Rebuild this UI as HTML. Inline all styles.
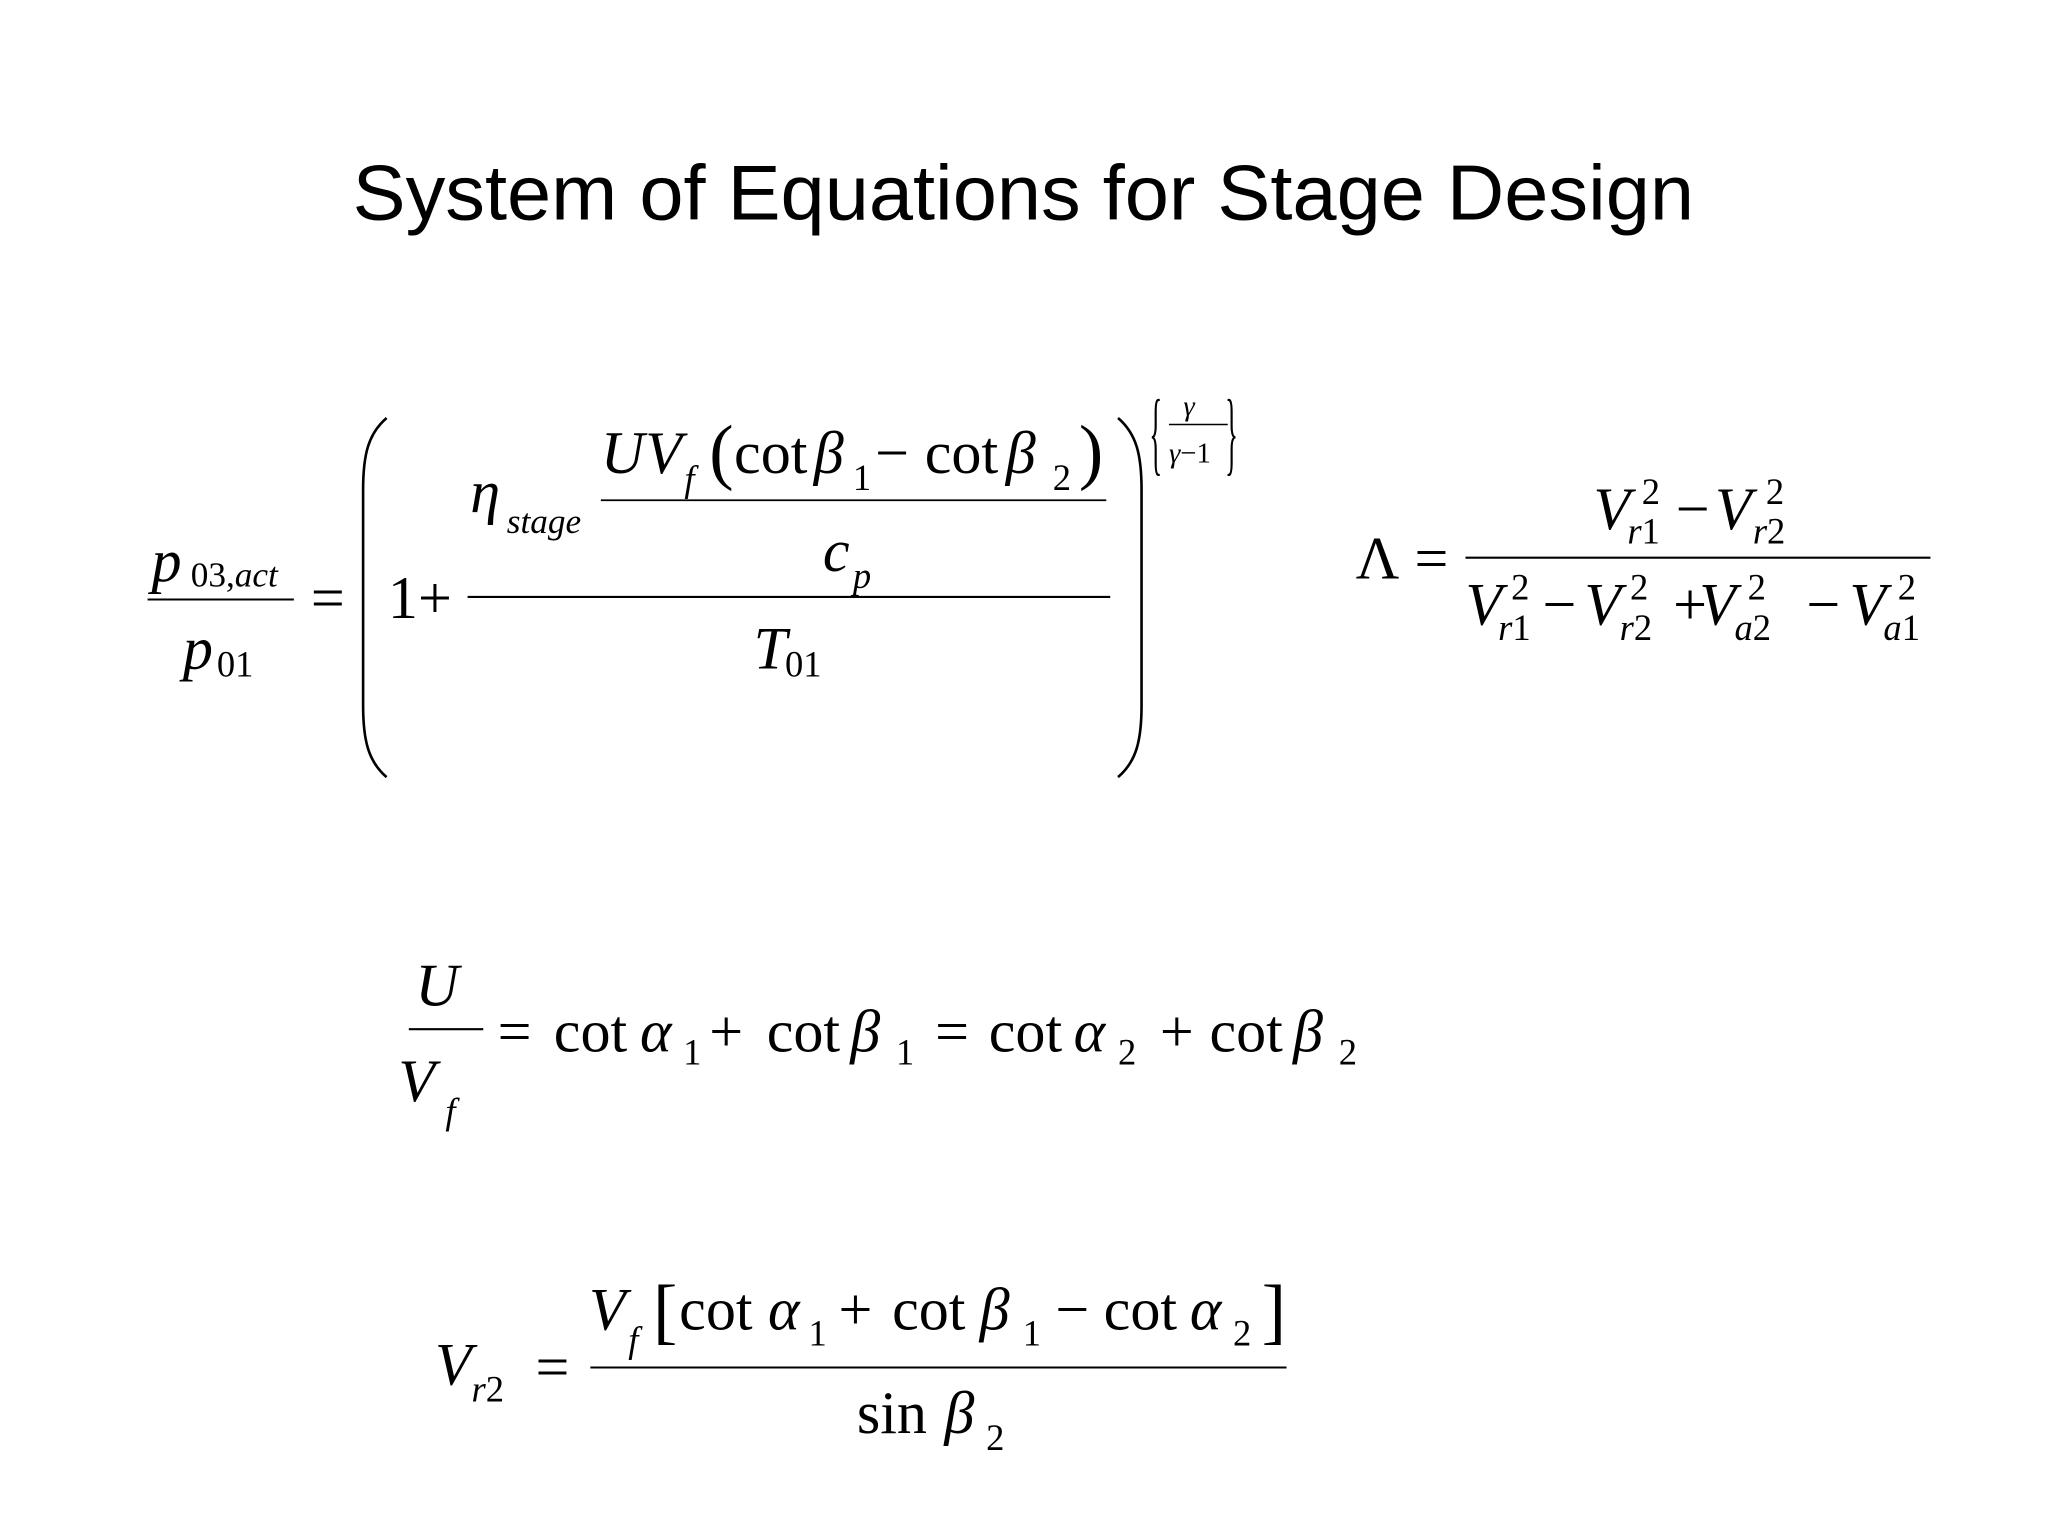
<!DOCTYPE html>
<html><head><meta charset="utf-8"><style>
html,body{margin:0;padding:0;background:#fff;}
svg{display:block;}
.t{font-family:"Liberation Sans",sans-serif;}
.s{font-family:"Liberation Serif",serif;fill:#000;}
.i{font-style:italic;}
</style></head><body>
<svg width="2048" height="1536" viewBox="0 0 1568 1176" xmlns="http://www.w3.org/2000/svg">
<rect width="1568" height="1176" fill="#fff"/>
<text class="t" x="270" y="168" font-size="60" textLength="1027" lengthAdjust="spacingAndGlyphs">System of Equations for Stage Design</text>

<!-- Equation 1 -->
<g class="s" font-size="46">
<text x="116" y="445" class="i">p</text>
<text x="146" y="449" font-size="27"><tspan>03,</tspan><tspan class="i">act</tspan></text>
<line x1="113" y1="459" x2="225" y2="459" stroke="#000" stroke-width="1.6"/>
<text x="140" y="512" class="i">p</text>
<text x="166" y="518" font-size="28">01</text>
<text x="238" y="473">=</text>
<path d="M296,320 C282,332 278,348 278,375 L278,540 C278,567 282,583 296,595" fill="none" stroke="#000" stroke-width="2"/>
<path d="M856,320 C870,332 874,348 874,375 L874,540 C874,567 870,583 856,595" fill="none" stroke="#000" stroke-width="2"/>
<text x="297" y="473">1+</text>
<line x1="358" y1="457" x2="850" y2="457" stroke="#000" stroke-width="1.6"/>
<text x="360" y="392" class="i">η</text>
<text x="388" y="408" font-size="27" class="i">stage</text>
<line x1="460" y1="383" x2="847" y2="383" stroke="#000" stroke-width="1.4"/>
<text x="460" y="362" class="i">U</text>
<text x="494" y="362" class="i">V</text>
<text x="524" y="376" font-size="28" class="i">f</text>
<text x="543" y="364" font-size="56">(</text>
<text x="562" y="362">cot</text>
<text x="623" y="362" class="i">β</text>
<text x="653" y="375" font-size="28">1</text>
<text x="670" y="362">−</text>
<text x="708" y="362">cot</text>
<text x="770" y="362" class="i">β</text>
<text x="806" y="375" font-size="28">2</text>
<text x="826" y="364" font-size="56">)</text>
<text x="630" y="437" class="i">c</text>
<text x="653" y="450" font-size="28" class="i">p</text>
<text x="577" y="512" class="i">T</text>
<text x="601" y="518" font-size="28">01</text>
<text x="880" y="356" font-size="34" transform="translate(880,0) scale(0.6,2.1) translate(-880,-187)">{</text>
<text x="938" y="356" font-size="34" transform="translate(938,0) scale(0.6,2.1) translate(-938,-187)">}</text>
<text x="906" y="318" font-size="22" class="i">γ</text>
<line x1="895" y1="325" x2="940" y2="325" stroke="#000" stroke-width="1.2"/>
<text x="895" y="354" font-size="22"><tspan class="i">γ</tspan>−1</text>
</g>

<!-- Lambda -->
<g class="s" font-size="46">
<text x="1038" y="443">Λ</text>
<text x="1083" y="443">=</text>
<line x1="1122" y1="427" x2="1478" y2="427" stroke="#000" stroke-width="1.6"/>
<text x="1220" y="405" class="i">V</text><text x="1257" y="386" font-size="28">2</text><text x="1246" y="416" font-size="28"><tspan class="i">r</tspan>1</text>
<text x="1283" y="405">−</text>
<text x="1313" y="405" class="i">V</text><text x="1352" y="386" font-size="28">2</text><text x="1342" y="416" font-size="28"><tspan class="i">r</tspan>2</text>
<text x="1122" y="478" class="i">V</text><text x="1157" y="459" font-size="28">2</text><text x="1147" y="490" font-size="28"><tspan class="i">r</tspan>1</text>
<text x="1181" y="478">−</text>
<text x="1213" y="478" class="i">V</text><text x="1248" y="459" font-size="28">2</text><text x="1240" y="490" font-size="28"><tspan class="i">r</tspan>2</text>
<text x="1281" y="478">+</text>
<text x="1301" y="478" class="i">V</text><text x="1338" y="459" font-size="28">2</text><text x="1328" y="490" font-size="28"><tspan class="i">a</tspan>2</text>
<text x="1383" y="478">−</text>
<text x="1416" y="478" class="i">V</text><text x="1453" y="459" font-size="28">2</text><text x="1442" y="490" font-size="28"><tspan class="i">a</tspan>1</text>
</g>

<!-- Equation 3 -->
<g class="s" font-size="46">
<text x="318" y="770" class="i">U</text>
<line x1="313" y1="788" x2="370" y2="788" stroke="#000" stroke-width="1.6"/>
<text x="305" y="843" class="i">V</text>
<text x="341" y="860" font-size="28" class="i">f</text>
<text x="381" y="805">=</text>
<text x="424" y="805">cot</text>
<text x="490" y="805" class="i">α</text>
<text x="523" y="815" font-size="28">1</text>
<text x="543" y="805">+</text>
<text x="587" y="805">cot</text>
<text x="651" y="805" class="i">β</text>
<text x="686" y="815" font-size="28">1</text>
<text x="716" y="805">=</text>
<text x="757" y="805">cot</text>
<text x="822" y="805" class="i">α</text>
<text x="856" y="815" font-size="28">2</text>
<text x="888" y="805">+</text>
<text x="926" y="805">cot</text>
<text x="990" y="805" class="i">β</text>
<text x="1025" y="815" font-size="28">2</text>
</g>

<!-- Equation 4 -->
<g class="s" font-size="46">
<text x="333" y="1060" class="i">V</text>
<text x="361" y="1073" font-size="28"><tspan class="i">r</tspan>2</text>
<text x="410" y="1062">=</text>
<line x1="452" y1="1047" x2="985" y2="1047" stroke="#000" stroke-width="1.6"/>
<text x="451" y="1018" class="i">V</text>
<text x="481" y="1035" font-size="28" class="i">f</text>
<text x="500" y="1022" font-size="56">[</text>
<text x="520" y="1018">cot</text>
<text x="588" y="1018" class="i">α</text>
<text x="619" y="1030" font-size="28">1</text>
<text x="642" y="1018">+</text>
<text x="683" y="1018">cot</text>
<text x="750" y="1018" class="i">β</text>
<text x="783" y="1030" font-size="28">1</text>
<text x="808" y="1018">−</text>
<text x="845" y="1018">cot</text>
<text x="911" y="1018" class="i">α</text>
<text x="944" y="1030" font-size="28">2</text>
<text x="966" y="1022" font-size="56">]</text>
<text x="656" y="1097">sin</text>
<text x="723" y="1097" class="i">β</text>
<text x="755" y="1110" font-size="28">2</text>
</g>
</svg>
</body></html>
